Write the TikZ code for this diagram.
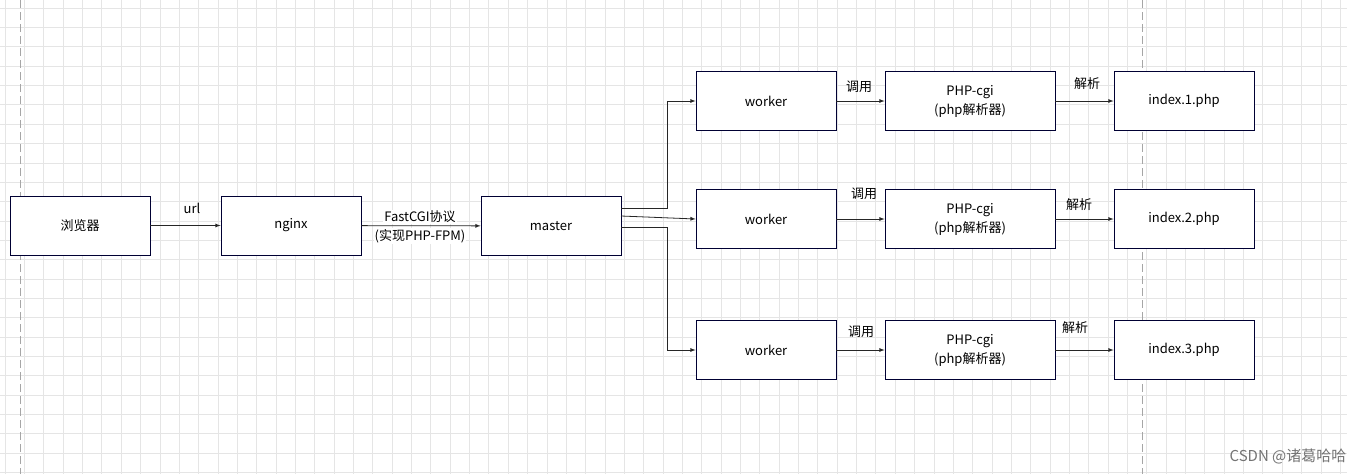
\documentclass[tikz,border=0pt]{standalone}
\usepackage{fontspec}
\setmainfont{Noto Sans CJK SC}
\begin{document}
\begin{tikzpicture}[x=1pt,y=-1pt,
  box/.style={draw=black!80!blue,line width=0.8pt,minimum width=140pt,minimum height=59pt,inner sep=0pt,font=\fontsize{13}{19}\selectfont,align=center},
  arr/.style={draw=black!85,line width=0.8pt,-latex},
  lab/.style={font=\fontsize{13}{15}\selectfont,inner sep=1pt}]
\useasboundingbox (0,0) rectangle (1347,474);
\fill[white] (0,0) rectangle (1347,474);
\foreach \x in {0,...,70} \draw[black!10,line width=0.6pt] ({5+19.35*\x},0) -- ({5+19.35*\x},474);
\foreach \y in {0,...,25} \draw[black!10,line width=0.6pt] (0,{8+19.35*\y}) -- (1347,{8+19.35*\y});
\draw[black!35,dashed,dash pattern=on 8pt off 4pt] (20,0) -- (20,474);
\draw[black!35,dashed,dash pattern=on 8pt off 4pt] (1142,0) -- (1142,474);
\node[box,fill=white] (b) at (80,225.5) {浏览器};
\node[box,fill=white] (n) at (291,225.5) {nginx};
\node[box,fill=white] (m) at (551,226) {master};
\foreach \i/\y in {1/101,2/219,3/350}{
  \node[box,fill=white] (w\i) at (766,\y) {worker};
  \node[box,fill=white,minimum width=170pt] (p\i) at (970,\y) {PHP-cgi\\(php解析器)};
  \node[box,fill=white] (x\i) at (1184,\y) {index.\i.php};
  \draw[arr] (w\i) -- (p\i);
  \draw[arr] (p\i) -- (x\i);
}
\draw[arr] (b) -- (n);
\draw[arr] (n) -- (m);
\coordinate (m1) at (621,208);
\coordinate (m2) at (621,216);
\coordinate (m3) at (621,227);
\draw[arr] (m1) -| (667,101) -- (w1.west);
\draw[arr] (m2) -- (w2.west);
\draw[arr] (m3) -| (667,350) -- (w3.west);
\node[lab] at (192,208) {url};
\node[lab,fill=white] at (420,217) {FastCGI协议};
\node[lab,fill=white] at (420,236) {(实现PHP-FPM)};
\node[lab] at (859,87) {调用};
\node[lab] at (1087,84) {解析};
\node[lab] at (864,194) {调用};
\node[lab] at (1079,205) {解析};
\node[lab] at (861,332) {调用};
\node[lab] at (1075,328) {解析};
\node[font=\fontsize{15}{17}\selectfont,text=black!55] at (1288,456) {CSDN @诸葛哈哈};
\end{tikzpicture}
\end{document}
